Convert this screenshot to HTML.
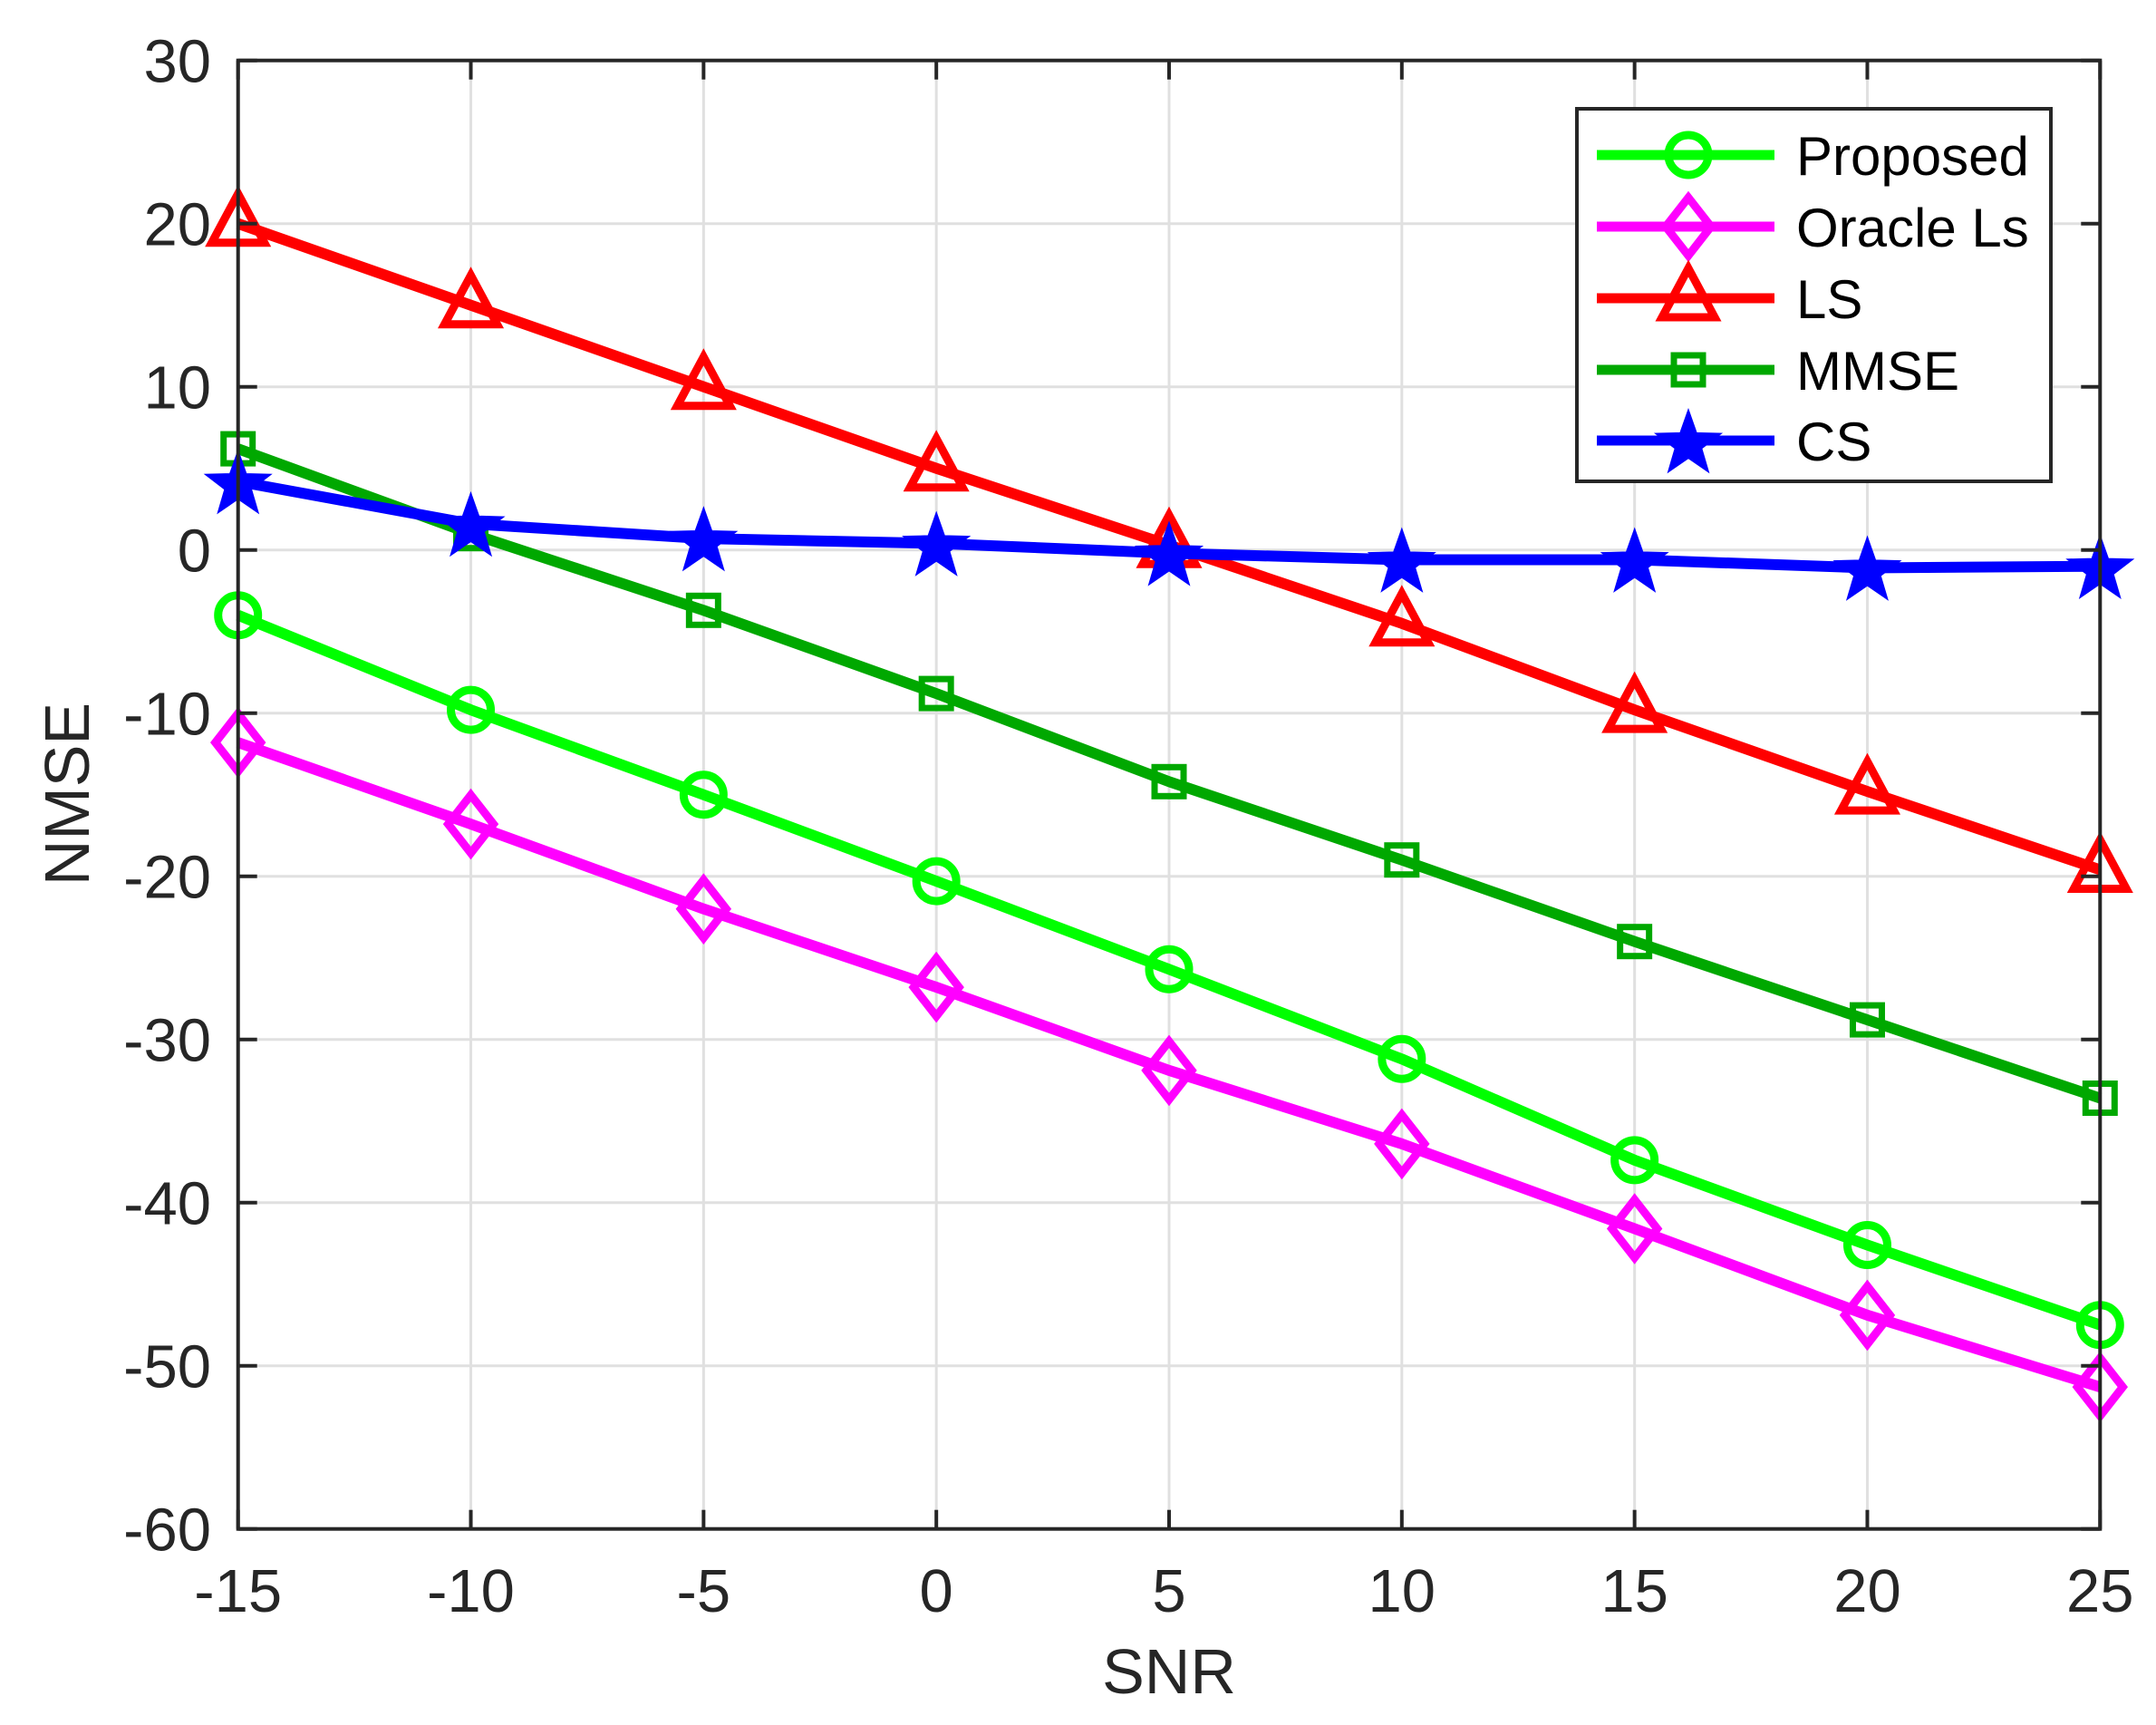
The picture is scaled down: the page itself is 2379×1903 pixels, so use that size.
<!DOCTYPE html>
<html><head><meta charset="utf-8"><style>
html,body{margin:0;padding:0;background:#fff;}
svg{display:block;font-family:"Liberation Sans",Arial,sans-serif;}
</style></head><body>
<svg id="chart" width="2379" height="1903" viewBox="0 0 2379 1903" xmlns="http://www.w3.org/2000/svg">
<rect width="2379" height="1903" fill="#fff"/>
<g id="grid"></g><g id="series"></g><g id="axes"></g><g id="legend"></g>
</svg>
<script>
const snr = [-15,-10,-5,0,5,10,15,20,25];
const xTicks = [-15,-10,-5,0,5,10,15,20,25];
const yTicks = [30,20,10,0,-10,-20,-30,-40,-50,-60];
const proposed = [-4,-9.8,-15,-20.3,-25.7,-31.2,-37.4,-42.6,-47.5];
const oracleLs = [-11.8,-16.8,-22,-26.8,-31.9,-36.4,-41.6,-46.9,-51.3];
const ls = [20,15,10,5,0.3,-4.5,-9.8,-14.8,-19.6];
const mmse = [6.2,1,-3.7,-8.8,-14.2,-19,-24,-28.8,-33.6];
const cs = [4.2,1.6,0.7,0.4,-0.2,-0.6,-0.6,-1.1,-1.0];
const seriesNames = ["Proposed","Oracle Ls","LS","MMSE","CS"];

const NS="http://www.w3.org/2000/svg";
const L=262.7,R=2317.3,T=66.7,B=1686.7;
const xMin=-15,xMax=25,yMin=-60,yMax=30;
function sx(v){return L+(v-xMin)/(xMax-xMin)*(R-L);}
function sy(v){return B-(v-yMin)/(yMax-yMin)*(B-T);}
function mk(tag,attrs,parent){const e=document.createElementNS(NS,tag);for(const k in attrs)e.setAttribute(k,attrs[k]);parent.appendChild(e);return e;}
const grid=document.getElementById('grid'),ser=document.getElementById('series'),axes=document.getElementById('axes'),leg=document.getElementById('legend');

xTicks.forEach(v=>{
  const g=mk('line',{x1:sx(v),x2:sx(v),y1:T,y2:B,stroke:'#e0e0e0','stroke-width':3},grid);
  
  
  mk('line',{x1:sx(v),x2:sx(v),y1:B,y2:B-21,stroke:'#262626','stroke-width':4},axes);
  mk('line',{x1:sx(v),x2:sx(v),y1:T,y2:T+21,stroke:'#262626','stroke-width':4},axes);
  const t=mk('text',{x:sx(v),y:1778,'text-anchor':'middle','font-size':67,fill:'#262626'},axes);
  t.textContent=v;
  
  
});
yTicks.forEach(v=>{
  const g=mk('line',{x1:L,x2:R,y1:sy(v),y2:sy(v),stroke:'#e0e0e0','stroke-width':3},grid);
  
  
  mk('line',{x1:L,x2:L+21,y1:sy(v),y2:sy(v),stroke:'#262626','stroke-width':4},axes);
  mk('line',{x1:R,x2:R-21,y1:sy(v),y2:sy(v),stroke:'#262626','stroke-width':4},axes);
  const t=mk('text',{x:233,y:sy(v)+24,'text-anchor':'end','font-size':67,fill:'#262626'},axes);
  t.textContent=v;
  
  
});
const frame=mk('rect',{x:L,y:T,width:R-L,height:B-T,fill:'none',stroke:'#262626','stroke-width':4},axes);


const xl=mk('text',{x:(L+R)/2,y:1868,'text-anchor':'middle','font-size':70,fill:'#262626'},axes);
xl.textContent='SNR';


const yl=mk('text',{x:0,y:0,'text-anchor':'middle','font-size':70,fill:'#262626',transform:'translate(98,876) rotate(-90)'},axes);
yl.textContent='NMSE';



function starPts(cx,cy,ro,ri){let p=[];for(let i=0;i<10;i++){const a=-Math.PI/2+i*Math.PI/5;const r=i%2?ri:ro;p.push((cx+r*Math.cos(a)).toFixed(1)+','+(cy+r*Math.sin(a)).toFixed(1));}return p.join(' ');}
function marker(type,x,y,color,parent){
  let e;
  if(type==='circle') e=mk('circle',{cx:x,cy:y,r:22,fill:'none',stroke:color,'stroke-width':9},parent);
  else if(type==='diamond') e=mk('polygon',{points:`${x},${y-32} ${x+25},${y} ${x},${y+32} ${x-25},${y}`,fill:'none',stroke:color,'stroke-width':9},parent);
  else if(type==='triangle') e=mk('polygon',{points:`${x},${y-33} ${x+29},${y+21} ${x-29},${y+21}`,fill:'none',stroke:color,'stroke-width':9},parent);
  else if(type==='square') e=mk('rect',{x:x-16,y:y-16,width:32,height:32,fill:'none',stroke:color,'stroke-width':7},parent);
  else e=mk('polygon',{points:starPts(x,y+4,37,15),fill:color,stroke:color,'stroke-width':2},parent);
  return e;
}
const defs=[
  {vals:proposed,color:'#00ff00',m:'circle',name:'proposed'},
  {vals:oracleLs,color:'#ff00ff',m:'diamond',name:'oracle-ls'},
  {vals:ls,color:'#ff0000',m:'triangle',name:'ls'},
  {vals:mmse,color:'#00a800',m:'square',name:'mmse'},
  {vals:cs,color:'#0000ff',m:'star',name:'cs'}
];
defs.forEach(d=>{
  const g=mk('g',{},ser);
  
  
  const pts=d.vals.map((v,i)=>sx(snr[i]).toFixed(1)+','+sy(v).toFixed(1)).join(' ');
  const pl=mk('polyline',{points:pts,fill:'none',stroke:d.color,'stroke-width':12,'stroke-linejoin':'round'},g);
  
  
  d.vals.forEach((v,i)=>{
    const m=marker(d.m,sx(snr[i]),sy(v),d.color,g);
    
    
  });
});
// legend
const lb=mk('rect',{x:1740,y:120,width:523,height:411,fill:'#fff',stroke:'#262626','stroke-width':4},leg);


const rowY=[171,250,329,408,486];
defs.forEach((d,i)=>{
  const g=mk('g',{},leg);
  
  
  mk('line',{x1:1762,x2:1958,y1:rowY[i],y2:rowY[i],stroke:d.color,'stroke-width':11},g);
  marker(d.m,1863,rowY[i],d.color,g);
  const t=mk('text',{x:1982,y:rowY[i]+22,'font-size':60,fill:'#000'},g);
  t.textContent=seriesNames[i];
});
</script>
</body></html>
